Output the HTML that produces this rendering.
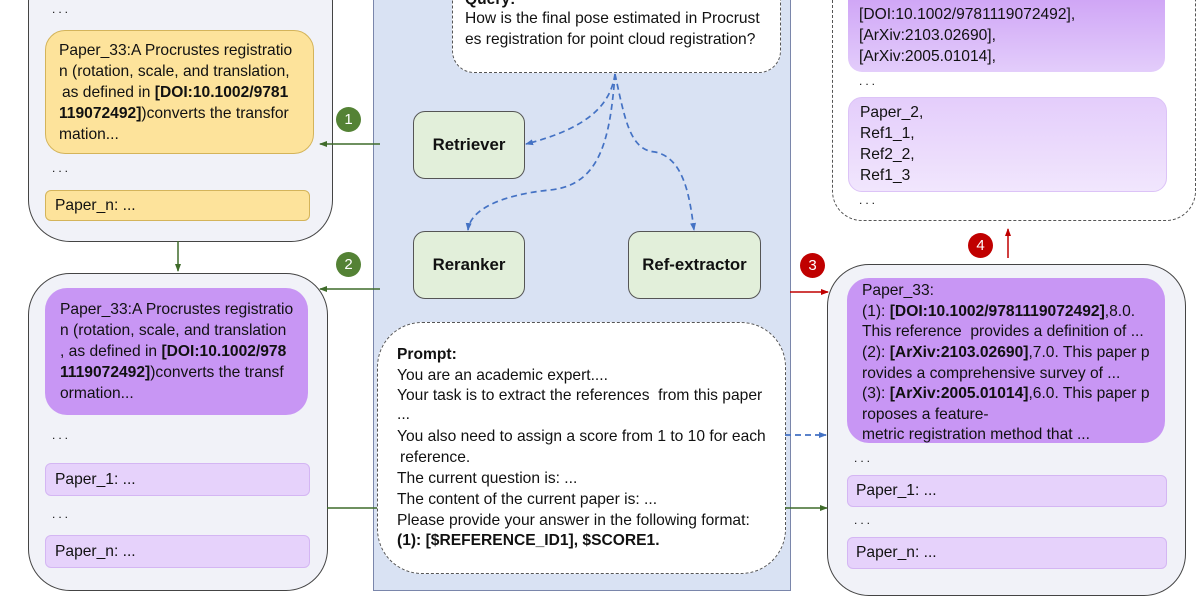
<!DOCTYPE html>
<html><head><meta charset="utf-8"><style>
body{margin:0;width:1200px;height:600px;overflow:hidden;background:#fff;position:relative;font-family:"Liberation Sans",sans-serif;font-size:15.6px;color:#111}
.a{position:absolute}
.t{position:absolute;white-space:nowrap;line-height:21px}
b{font-weight:bold}
.outer{background:#f1f2f8;border:1.3px solid #444;border-radius:42px}
.yel{background:#fde39b;border:1px solid #d4b45a;border-radius:20px}
.pur{background:#c896f4;border-radius:22px}
.lp{background:#e6d2fb;border:1px solid #d4b6f3;border-radius:6px}
.gr{background:#e2efda;border:1.2px solid #555;border-radius:12px;font-weight:bold;font-size:16.8px;display:flex;align-items:center;justify-content:center}
.dots{position:absolute;font-size:12px;letter-spacing:3px}
.c{position:absolute;width:25px;height:25px;border-radius:50%;color:#fff;font-size:15px;text-align:center;line-height:25px}
</style></head><body>
<!-- left top -->
<div class="a outer" style="left:28px;top:-40px;width:303px;height:280px"></div>
<div class="dots" style="left:52px;top:2px">...</div>
<div class="a yel" style="left:45px;top:30px;width:267px;height:122px"></div>
<div class="t" style="left:59px;top:40px">Paper_33:A Procrustes registratio</div>
<div class="t" style="left:59px;top:61px">n (rotation, scale, and translation,</div>
<div class="t" style="left:62px;top:82px">as defined in <b>[DOI:10.1002/9781</b></div>
<div class="t" style="left:59px;top:103px"><b>119072492]</b>)converts the transfor</div>
<div class="t" style="left:59px;top:124px">mation...</div>
<div class="dots" style="left:52px;top:161px">...</div>
<div class="a yel" style="left:45px;top:190px;width:263px;height:29px;border-radius:6px"></div>
<div class="t" style="left:55px;top:195px">Paper_n: ...</div>
<!-- left bottom -->
<div class="a outer" style="left:28px;top:273px;width:298px;height:316px"></div>
<div class="a pur" style="left:45px;top:288px;width:263px;height:127px"></div>
<div class="t" style="left:60px;top:299px">Paper_33:A Procrustes registratio</div>
<div class="t" style="left:60px;top:320px">n (rotation, scale, and translation</div>
<div class="t" style="left:60px;top:341px">, as defined in <b>[DOI:10.1002/978</b></div>
<div class="t" style="left:60px;top:362px"><b>1119072492]</b>)converts the transf</div>
<div class="t" style="left:60px;top:383px">ormation...</div>
<div class="dots" style="left:52px;top:428px">...</div>
<div class="a lp" style="left:45px;top:463px;width:263px;height:31px"></div>
<div class="t" style="left:55px;top:469px">Paper_1: ...</div>
<div class="dots" style="left:52px;top:507px">...</div>
<div class="a lp" style="left:45px;top:535px;width:263px;height:31px"></div>
<div class="t" style="left:55px;top:541px">Paper_n: ...</div>
<!-- center -->
<div class="a" style="left:373px;top:-5px;width:416px;height:594px;background:#d9e2f3;border:1.3px solid #7a86ab"></div>
<div class="a" style="left:452px;top:-40px;width:327px;height:111px;background:#fff;border:1.2px dashed #555;border-radius:22px"></div>
<div class="t" style="left:465px;top:-11px"><b>Query:</b></div>
<div class="t" style="left:465px;top:8px">How is the final pose estimated in Procrust</div>
<div class="t" style="left:465px;top:29px">es registration for point cloud registration?</div>
<div class="a gr" style="left:413px;top:111px;width:110px;height:66px">Retriever</div>
<div class="a gr" style="left:413px;top:231px;width:110px;height:66px">Reranker</div>
<div class="a gr" style="left:628px;top:231px;width:131px;height:66px">Ref-extractor</div>
<div class="a" style="left:377px;top:322px;width:407px;height:250px;background:#fff;border:1.2px dashed #555;border-radius:45px"></div>
<div class="t" style="left:397px;top:344px"><b>Prompt:</b></div>
<div class="t" style="left:397px;top:365px">You are an academic expert....</div>
<div class="t" style="left:397px;top:385px">Your task is to extract the references &nbsp;from this paper</div>
<div class="t" style="left:397px;top:404px">...</div>
<div class="t" style="left:397px;top:426px">You also need to assign a score from 1 to 10 for each</div>
<div class="t" style="left:400px;top:447px">reference.</div>
<div class="t" style="left:397px;top:468px">The current question is: ...</div>
<div class="t" style="left:397px;top:489px">The content of the current paper is: ...</div>
<div class="t" style="left:397px;top:510px">Please provide your answer in the following format:</div>
<div class="t" style="left:397px;top:530px"><b>(1): [$REFERENCE_ID1], $SCORE1.</b></div>
<!-- right top -->
<div class="a" style="left:832px;top:-40px;width:362px;height:259px;border:1.2px dashed #555;border-radius:30px"></div>
<div class="a pur" style="left:848px;top:-30px;width:317px;height:102px;background:linear-gradient(#c896f4,#e3cdfb);border-radius:14px"></div>
<div class="t" style="left:859px;top:4px">[DOI:10.1002/9781119072492],</div>
<div class="t" style="left:859px;top:25px">[ArXiv:2103.02690],</div>
<div class="t" style="left:859px;top:46px">[ArXiv:2005.01014],</div>
<div class="dots" style="left:859px;top:74px">...</div>
<div class="a" style="left:848px;top:97px;width:317px;height:93px;background:linear-gradient(#e4cdfb,#f1e6fd);border:1px solid #dcc3f7;border-radius:14px"></div>
<div class="t" style="left:860px;top:102px">Paper_2,</div>
<div class="t" style="left:860px;top:123px">Ref1_1,</div>
<div class="t" style="left:860px;top:144px">Ref2_2,</div>
<div class="t" style="left:860px;top:165px">Ref1_3</div>
<div class="dots" style="left:859px;top:193px">...</div>
<!-- right bottom -->
<div class="a outer" style="left:827px;top:264px;width:357px;height:330px"></div>
<div class="a pur" style="left:847px;top:278px;width:318px;height:165px"></div>
<div class="t" style="left:862px;top:280px">Paper_33:</div>
<div class="t" style="left:862px;top:301px">(1): <b>[DOI:10.1002/9781119072492]</b>,8.0.</div>
<div class="t" style="left:862px;top:321px">This reference &nbsp;provides a definition of ...</div>
<div class="t" style="left:862px;top:342px">(2): <b>[ArXiv:2103.02690]</b>,7.0. This paper p</div>
<div class="t" style="left:862px;top:363px">rovides a comprehensive survey of ...</div>
<div class="t" style="left:862px;top:383px">(3): <b>[ArXiv:2005.01014]</b>,6.0. This paper p</div>
<div class="t" style="left:862px;top:404px">roposes a feature-</div>
<div class="t" style="left:862px;top:424px">metric registration method that ...</div>
<div class="dots" style="left:854px;top:451px">...</div>
<div class="a lp" style="left:847px;top:475px;width:318px;height:30px"></div>
<div class="t" style="left:856px;top:480px">Paper_1: ...</div>
<div class="dots" style="left:854px;top:513px">...</div>
<div class="a lp" style="left:847px;top:537px;width:318px;height:30px"></div>
<div class="t" style="left:856px;top:542px">Paper_n: ...</div>
<!-- circles -->
<div class="c" style="left:336px;top:107px;background:#548235">1</div>
<div class="c" style="left:336px;top:252px;background:#548235">2</div>
<div class="c" style="left:800px;top:253px;background:#c00000">3</div>
<div class="c" style="left:968px;top:233px;background:#c00000">4</div>
<svg class="a" style="left:0;top:0" width="1200" height="600">
<defs>
<marker id="g" markerWidth="8" markerHeight="8" refX="7" refY="4" orient="auto" markerUnits="userSpaceOnUse"><path d="M0,1L8,4L0,7z" fill="#3f6b2a"/></marker>
<marker id="r" markerWidth="8" markerHeight="8" refX="7" refY="4" orient="auto" markerUnits="userSpaceOnUse"><path d="M0,1L8,4L0,7z" fill="#c00000"/></marker>
<marker id="b" markerWidth="8" markerHeight="8" refX="7" refY="4" orient="auto" markerUnits="userSpaceOnUse"><path d="M0,1L8,4L0,7z" fill="#4472c4"/></marker>
</defs>
<g stroke="#3f6b2a" stroke-width="1.5" fill="none">
<line x1="380" y1="144" x2="320" y2="144" marker-end="url(#g)"/>
<line x1="380" y1="289" x2="320" y2="289" marker-end="url(#g)"/>
<line x1="178" y1="241" x2="178" y2="271" marker-end="url(#g)"/>
<line x1="327" y1="508" x2="377" y2="508"/>
<line x1="785" y1="508" x2="827" y2="508" marker-end="url(#g)"/>
</g>
<g stroke="#c00000" stroke-width="1.5" fill="none">
<line x1="790" y1="292" x2="828" y2="292" marker-end="url(#r)"/>
<line x1="1008" y1="258" x2="1008" y2="229" marker-end="url(#r)"/>
</g>
<g stroke="#4472c4" stroke-width="1.7" fill="none" stroke-dasharray="6,4">
<line x1="785" y1="435" x2="826" y2="435" marker-end="url(#b)"/>
<path d="M615,74 C610,110 580,130 526,144" marker-end="url(#b)"/>
<path d="M615,74 C610,140 600,185 550,190 C500,195 470,210 468,230" marker-end="url(#b)"/>
<path d="M615,74 C625,120 630,150 655,152 C685,158 690,200 694,230" marker-end="url(#b)"/>
</g>
</svg>
</body></html>
